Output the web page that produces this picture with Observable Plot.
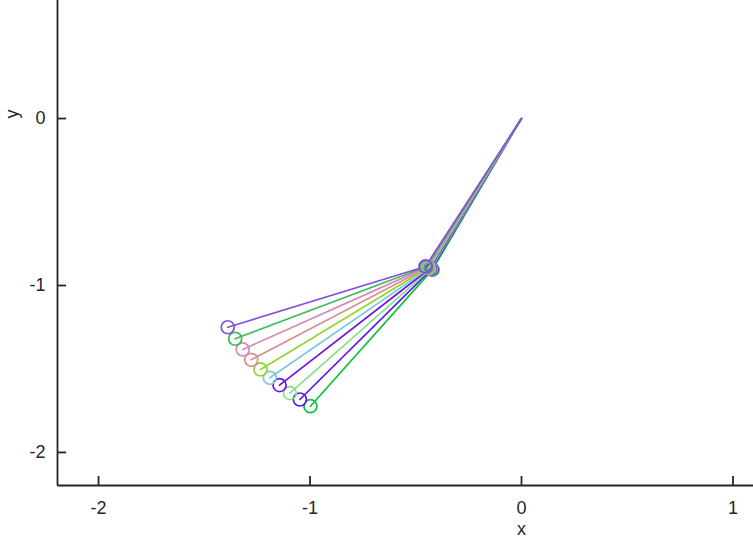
<!DOCTYPE html>
<html><head><meta charset="utf-8">
<script src="https://cdn.jsdelivr.net/npm/d3@7"></script>
<script src="https://cdn.jsdelivr.net/npm/@observablehq/plot@0.6"></script>
<style>body{margin:0;background:#fff;} #chart svg{display:block;}</style>
</head><body><div id="chart"></div>
<script>
// pendulum ids, in order of endpoint from top-left to bottom
const ids = ["p1","p2","p3","p4","p5","p6","p7","p8","p9","p10"];
const colors = ["#8050e0","#40b858","#d888b8","#d89090","#90d828","#78c8e0","#7010e8","#88e088","#5818f0","#10c040"];
// first bob (middle joint)
const midX = [-0.454,-0.450,-0.447,-0.444,-0.440,-0.436,-0.433,-0.429,-0.425,-0.421];
const midY = [-0.886,-0.888,-0.890,-0.892,-0.894,-0.896,-0.898,-0.900,-0.902,-0.905];
// second bob (end point)
const endX = [-1.389,-1.354,-1.318,-1.278,-1.234,-1.190,-1.144,-1.095,-1.048,-0.998];
const endY = [-1.250,-1.319,-1.383,-1.445,-1.503,-1.553,-1.597,-1.645,-1.683,-1.723];
const xTicks = [-2,-1,0,1];
const yTicks = [-2,-1,0];
const xDomain = [-2.194, 1.097];
const yDomain = [-2.198, 0.707];

const ink = "#262626";
// build path rows: origin -> mid -> end (drawn in reverse so first is on top)
const order = ids.map((_, i) => i).reverse();
const pathRows = [];
for (const i of order) {
  pathRows.push({id: ids[i], x: 0, y: 0});
  pathRows.push({id: ids[i], x: midX[i], y: midY[i]});
  pathRows.push({id: ids[i], x: endX[i], y: endY[i]});
}
const bobRows = [];
for (const i of order) {
  bobRows.push({id: ids[i], x: midX[i], y: midY[i]});
  bobRows.push({id: ids[i], x: endX[i], y: endY[i]});
}
const xTickLen = 0.043, yTickLen = 0.054;

const chart = Plot.plot({
  width: 753, height: 553,
  marginLeft: 57, marginRight: 0, marginTop: 0, marginBottom: 68,
  style: {fontFamily: "'Liberation Sans', Arial, sans-serif", fontSize: "18px", color: ink, background: "#fff", overflow: "visible"},
  x: {domain: xDomain, ticks: xTicks},
  y: {domain: yDomain, ticks: yTicks},
  color: {domain: ids, range: colors},
  marks: [
    Plot.axisX(xTicks, {tickSize: 0, tickPadding: 16, tickFormat: d => String(d), label: null, fontSize: 18}),
    Plot.axisY(yTicks, {tickSize: 0, tickPadding: 12, tickFormat: d => String(d), label: null, fontSize: 18}),
    Plot.ruleX(xTicks, {x: d => d, y1: yDomain[0], y2: yDomain[0] + yTickLen, stroke: ink, strokeWidth: 1.8}),
    Plot.ruleY(yTicks, {y: d => d, x1: xDomain[0], x2: xDomain[0] + xTickLen, stroke: ink, strokeWidth: 1.8}),
    Plot.ruleX([xDomain[0]], {stroke: ink, strokeWidth: 1.8}),
    Plot.ruleY([yDomain[0]], {stroke: ink, strokeWidth: 1.8}),
    Plot.line(pathRows, {x: "x", y: "y", z: "id", stroke: "id", strokeWidth: 1.7}),
    Plot.dot(bobRows, {x: "x", y: "y", stroke: "id", r: 6.5, strokeWidth: 1.7, fill: "none"}),
    Plot.text([0], {x: d => d, frameAnchor: "bottom", dy: 49, text: () => "x", fontSize: 18, fill: ink}),
    Plot.text([0], {y: d => d, frameAnchor: "left", dx: -45, rotate: -90, text: () => "y", fontSize: 18, fill: ink})
  ]
});
document.getElementById("chart").appendChild(chart);
</script>
</body></html>
